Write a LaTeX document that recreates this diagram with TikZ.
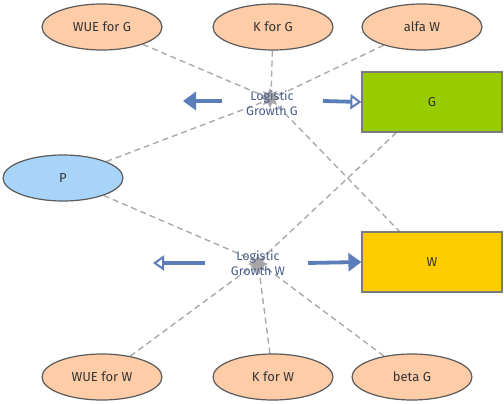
\documentclass[tikz,border=0pt]{standalone}
\usepackage{fontspec}
\setmainfont{Fira Sans}
\usetikzlibrary{shapes.geometric,arrows.meta,backgrounds,calc}
\definecolor{peach}{HTML}{FFCCA8}
\definecolor{pblue}{HTML}{A8D4FA}
\definecolor{ggreen}{HTML}{99CC00}
\definecolor{wyellow}{HTML}{FFCC00}
\definecolor{flowblue}{HTML}{5B7DB9}
\definecolor{lbltxt}{HTML}{4A5E8C}
\definecolor{dashgray}{HTML}{AAAAAA}
\definecolor{edge}{HTML}{5A5A5A}
\tikzset{
  aux/.style={ellipse,draw=edge,line width=1.2pt,fill=peach,minimum width=120pt,minimum height=46pt,inner sep=0pt,font=\fontsize{13}{15}\selectfont,text=black!80},
  stock/.style={rectangle,draw=edge!80,line width=1.2pt,minimum width=140pt,minimum height=60pt,font=\fontsize{13}{15}\selectfont,text=black!80},
  infl/.style={dashgray,line width=1.4pt,dash pattern=on 6pt off 4pt},
  flowarr/.style={flowblue,line width=3.8pt},
  flowlbl/.style={align=center,text=lbltxt,font=\fontsize{12.5}{15}\selectfont},
  cloud/.style={star,star points=8,star point ratio=1.8,fill=gray!70,minimum size=20pt,inner sep=0pt}
}
\begin{document}
\begin{tikzpicture}[x=1pt,y=-1pt]
\useasboundingbox (0,0) rectangle (504,404);
\node[aux] (wueG) at (102,27) {WUE for G};
\node[aux] (kG) at (273,27) {K for G};
\node[aux] (alfaW) at (422,27) {alfa W};
\node[ellipse,draw=edge,line width=1.2pt,fill=pblue,minimum width=120pt,minimum height=46pt,inner sep=0pt,font=\fontsize{13}{15}\selectfont,text=black!80] (P) at (63,178) {P};
\node[stock,fill=ggreen] (G) at (432,102) {G};
\node[stock,fill=wyellow] (W) at (432,262) {W};
\node[aux] (wueW) at (102,377) {WUE for W};
\node[aux] (kW) at (273,377) {K for W};
\node[aux] (betaG) at (412,377) {beta G};
\node[cloud] (cG) at (270,98) {};
\node[cloud] (cW) at (258,264) {};
\coordinate (lgG) at (271,99);
\coordinate (lgW) at (258,262);
\coordinate (wtop) at ($(W.north west)+(38,0)$);
\coordinate (gbot) at ($(G.south west)+(35,0)$);
\node[flowlbl] (lblG) at (272,103) {Logistic\\Growth G};
\node[flowlbl] (lblW) at (258,263) {Logistic\\Growth W};
\coordinate (gL1) at (222,101);
\coordinate (gL2) at (183,101);
\coordinate (gR1) at (323,101);
\coordinate (wL1) at (205,263);
\coordinate (wL2) at (153,263);
\coordinate (wR1) at (308,263);
\begin{scope}[on background layer]
\draw[infl] (wueG) -- (lgG);
\draw[infl] (kG) -- (lgG);
\draw[infl] (alfaW) -- (lgG);
\draw[infl] (P) -- (lgG);
\draw[infl] (lgG) -- (wtop);
\draw[infl] (gbot) -- (lgW);
\draw[infl] (P) -- (lgW);
\draw[infl] (wueW) -- (lgW);
\draw[infl] (kW) -- (lgW);
\draw[infl] (betaG) -- (lgW);
\end{scope}
\draw[flowarr,-{Triangle[length=13pt,width=18pt]}] (gL1) -- (gL2);
\draw[flowarr,-{Triangle[open,length=11pt,width=15pt,line width=2pt]}] (gR1) -- (G.west);
\draw[flowarr,-{Triangle[open,length=11pt,width=15pt,line width=2pt]}] (wL1) -- (wL2);
\draw[flowarr,-{Triangle[length=13pt,width=18pt]}] (wR1) -- (W.west);
\end{tikzpicture}
\end{document}
